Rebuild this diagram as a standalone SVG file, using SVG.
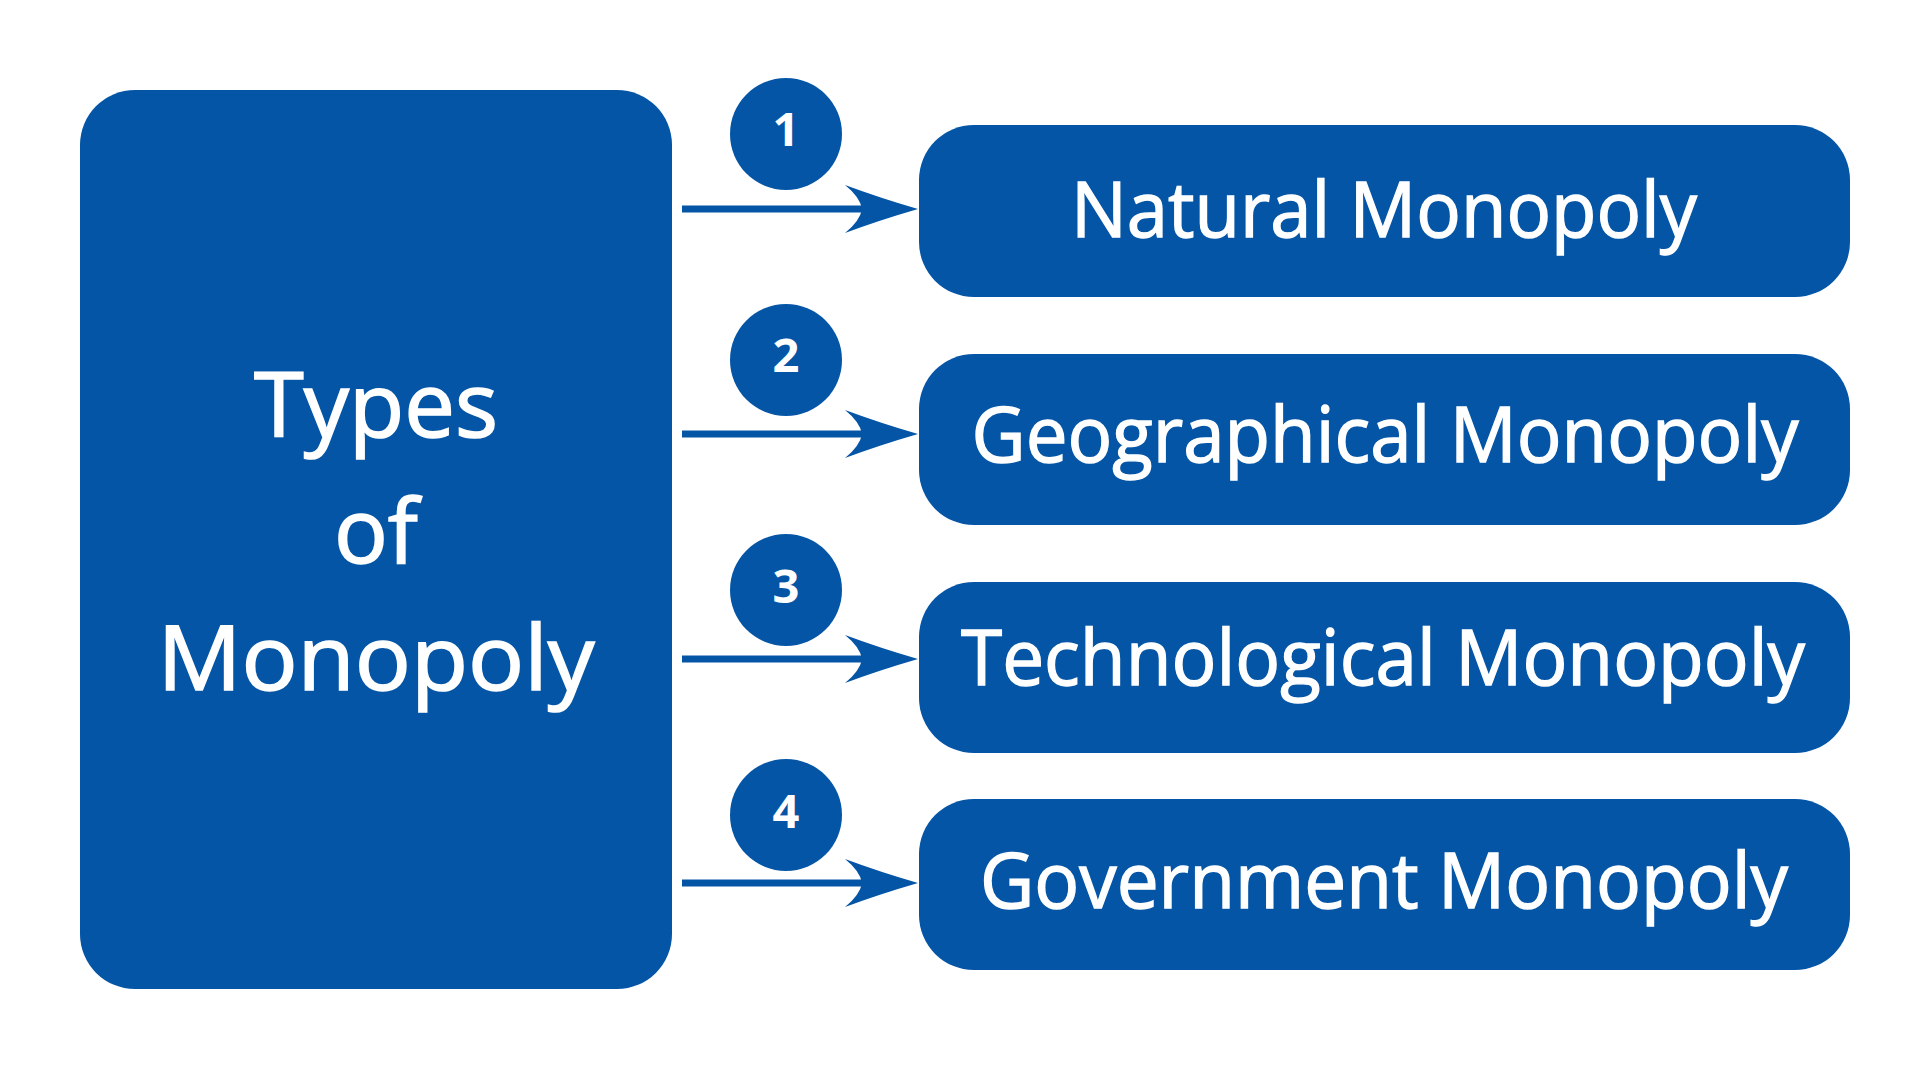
<svg xmlns="http://www.w3.org/2000/svg" width="1920" height="1080" viewBox="0 0 1920 1080">
  <defs>
    <style>
      .box { fill: #0455A6; }
      .badge { fill: #0455A6; }
      .title { font-family: "Open Sans", "Noto Sans", sans-serif; font-size: 90px; fill: #FFFFFF; stroke: #FFFFFF; stroke-width: 1.6; text-anchor: middle; }
      .label { font-family: "Open Sans", "Noto Sans", sans-serif; font-size: 77px; fill: #FFFFFF; stroke: #FFFFFF; stroke-width: 1.4; text-anchor: middle; }
      .num { font-family: "Open Sans", "Noto Sans", sans-serif; font-size: 47px; font-weight: bold; fill: #FFFFFF; text-anchor: middle; }
      .shaft { stroke: #0455A6; stroke-width: 7; fill: none; }
      .head { fill: #0455A6; }
    </style>
    <path id="arrowhead" class="head" d="M -73,-24 Q -38,-11 0,0 Q -38,11 -73,24 Q -58,12 -56,0 Q -58,-12 -73,-24 Z"/>
  </defs>
  <rect width="1920" height="1080" fill="#FFFFFF"/>

  <g id="types-of-monopoly">
    <rect class="box" x="80" y="90" width="592" height="899" rx="55" ry="55"/>
    <text class="title" x="376" y="437" textLength="244" lengthAdjust="spacingAndGlyphs">Types</text>
    <text class="title" x="376" y="563" textLength="84" lengthAdjust="spacingAndGlyphs">of</text>
    <text class="title" x="376" y="690" textLength="437" lengthAdjust="spacingAndGlyphs">Monopoly</text>
  </g>

  <g id="connectors">
    <line class="shaft" x1="682" y1="209" x2="862" y2="209"/>
    <use href="#arrowhead" transform="translate(918,209)"/>
    <line class="shaft" x1="682" y1="434" x2="862" y2="434"/>
    <use href="#arrowhead" transform="translate(918,434)"/>
    <line class="shaft" x1="682" y1="659" x2="862" y2="659"/>
    <use href="#arrowhead" transform="translate(918,659)"/>
    <line class="shaft" x1="682" y1="883" x2="862" y2="883"/>
    <use href="#arrowhead" transform="translate(918,883)"/>
  </g>

  <g id="badge-1">
    <circle class="badge" cx="786" cy="134" r="56"/>
    <text class="num" x="786" y="146">1</text>
  </g>
  <g id="badge-2">
    <circle class="badge" cx="786" cy="360" r="56"/>
    <text class="num" x="786" y="372">2</text>
  </g>
  <g id="badge-3">
    <circle class="badge" cx="786" cy="590" r="56"/>
    <text class="num" x="786" y="603">3</text>
  </g>
  <g id="badge-4">
    <circle class="badge" cx="786" cy="815" r="56"/>
    <text class="num" x="786" y="828">4</text>
  </g>

  <g id="natural-monopoly">
    <rect class="box" x="919" y="125" width="931" height="172" rx="55" ry="55"/>
    <text class="label" x="1384" y="237" textLength="626" lengthAdjust="spacingAndGlyphs">Natural Monopoly</text>
  </g>
  <g id="geographical-monopoly">
    <rect class="box" x="919" y="354" width="931" height="171" rx="55" ry="55"/>
    <text class="label" x="1385" y="462" textLength="827" lengthAdjust="spacingAndGlyphs">Geographical Monopoly</text>
  </g>
  <g id="technological-monopoly">
    <rect class="box" x="919" y="582" width="931" height="171" rx="55" ry="55"/>
    <text class="label" x="1383" y="685" textLength="844" lengthAdjust="spacingAndGlyphs">Technological Monopoly</text>
  </g>
  <g id="government-monopoly">
    <rect class="box" x="919" y="799" width="931" height="171" rx="55" ry="55"/>
    <text class="label" x="1384" y="908" textLength="808" lengthAdjust="spacingAndGlyphs">Government Monopoly</text>
  </g>
</svg>
